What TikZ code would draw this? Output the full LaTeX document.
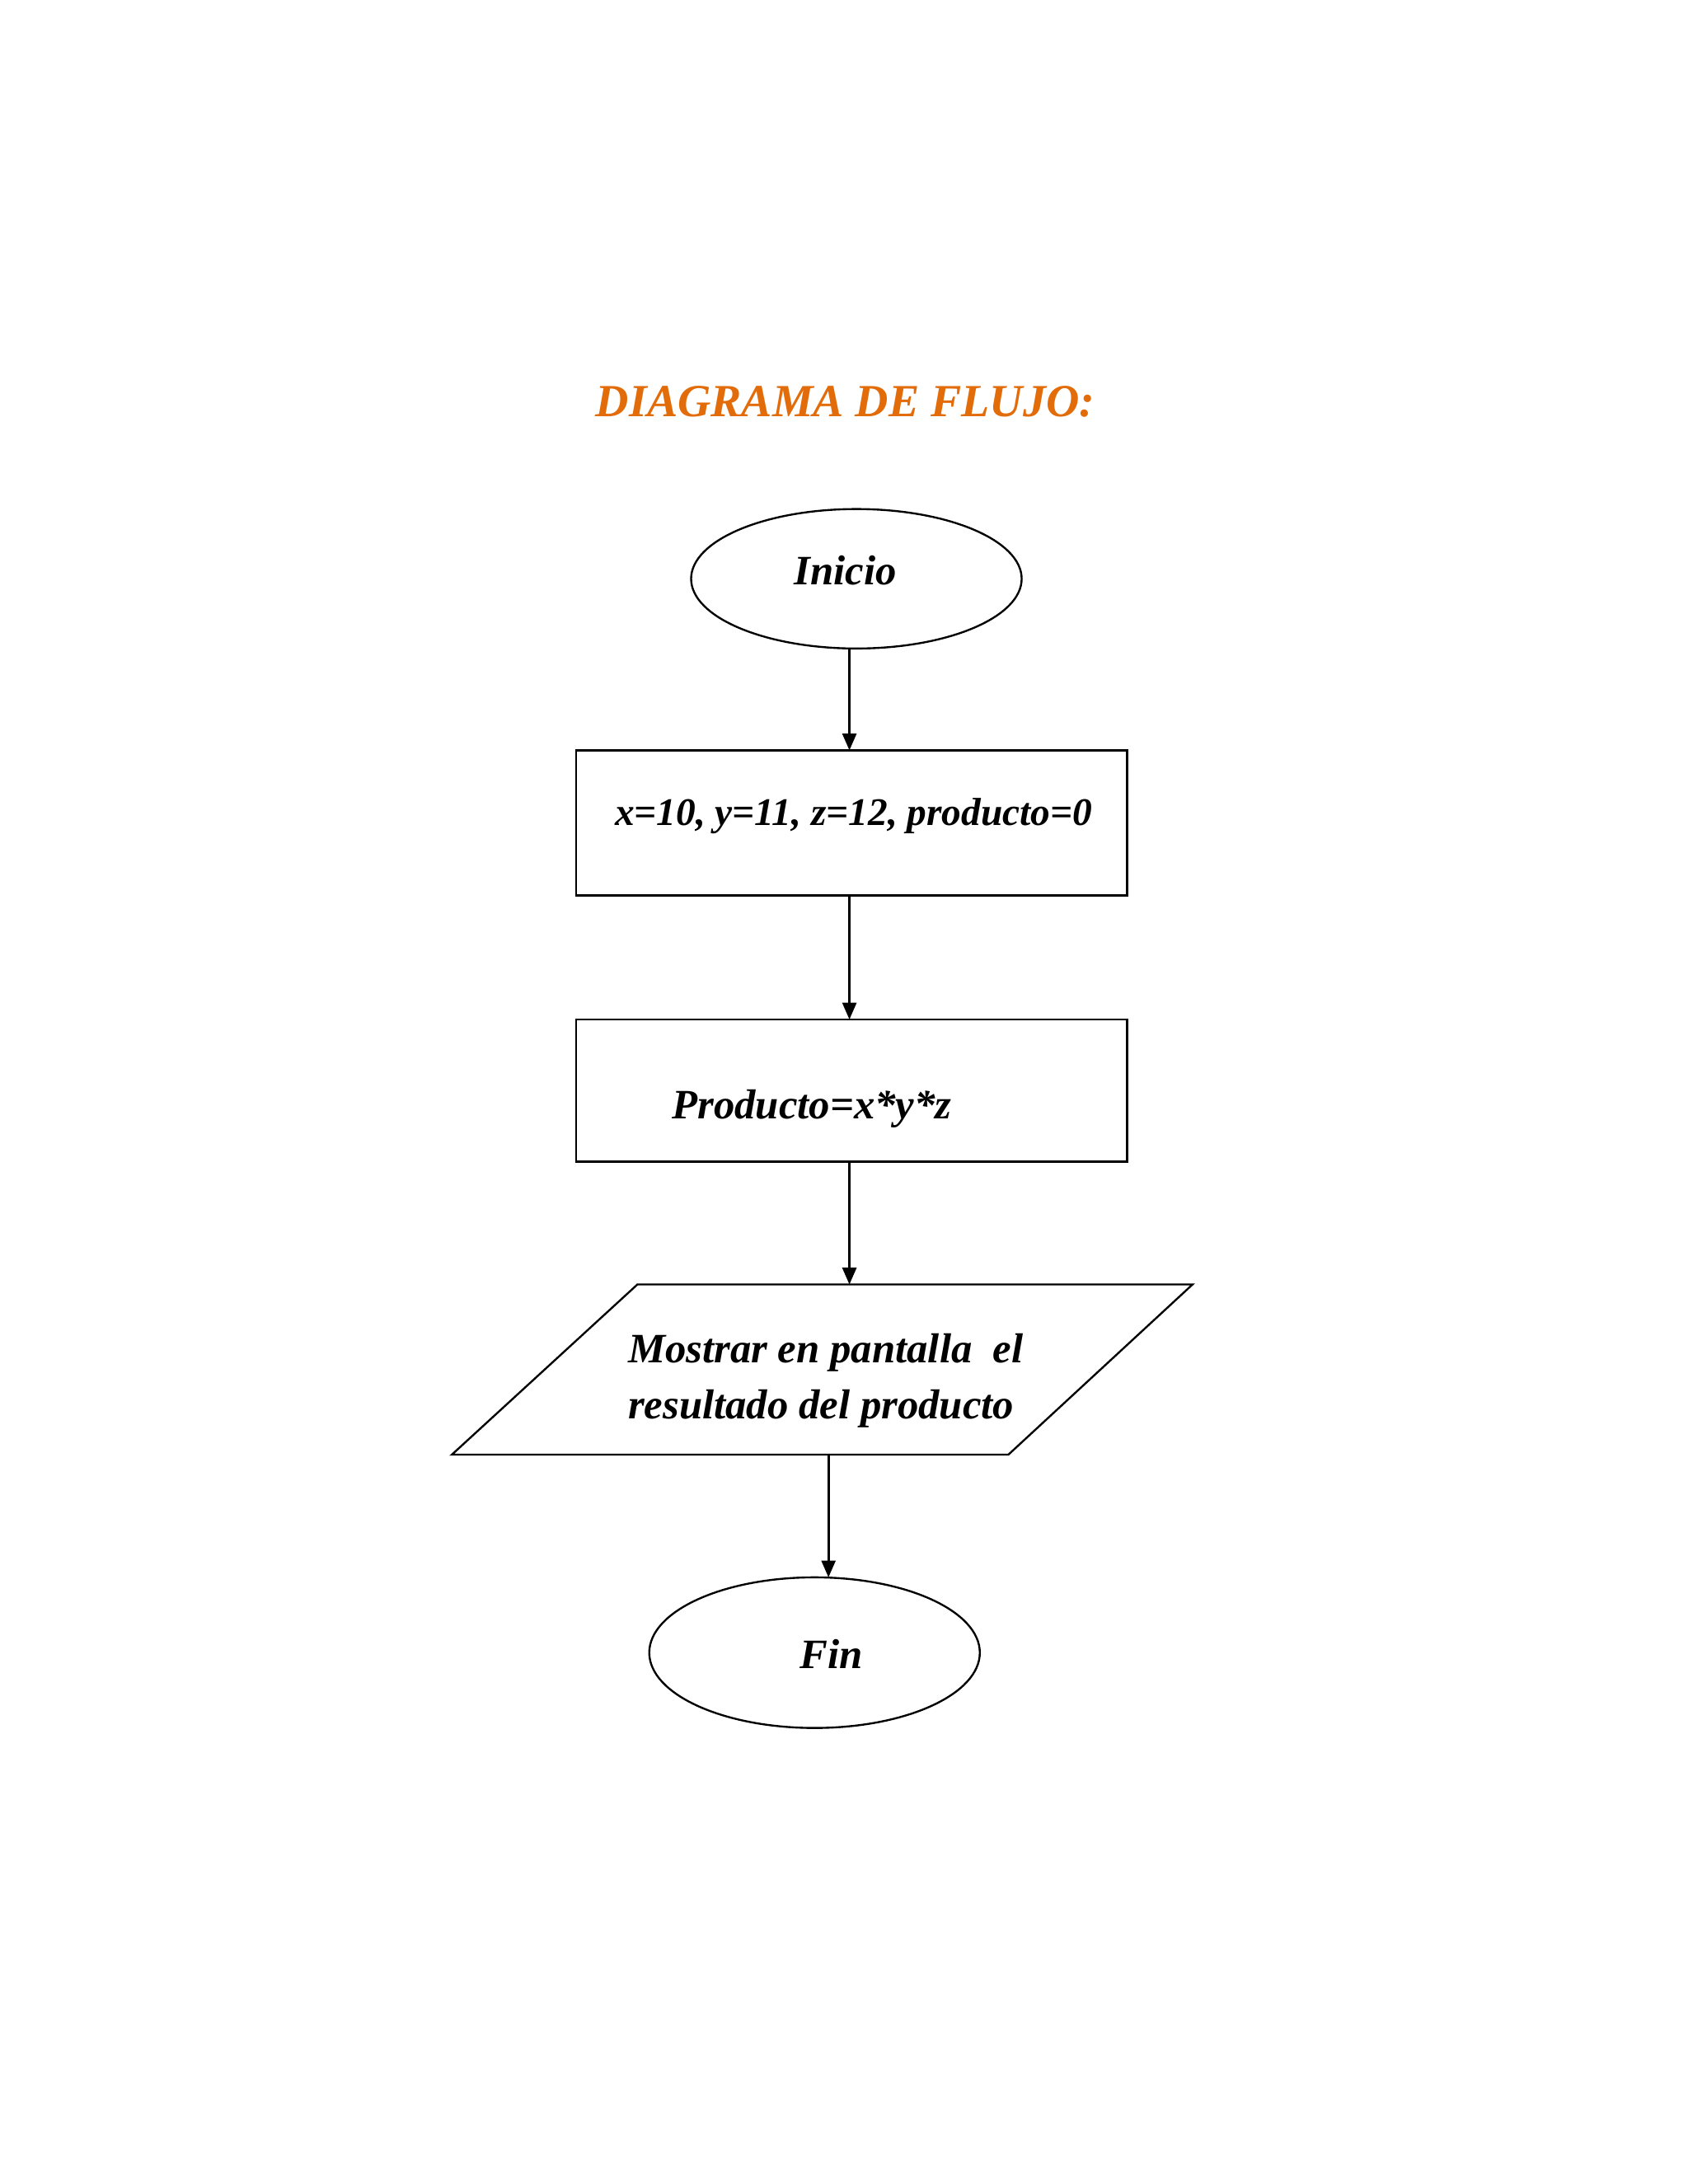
\documentclass[tikz,border=0pt]{standalone}
\usepackage{fontspec}
\setmainfont{Liberation Serif}
\usetikzlibrary{arrows.meta}
\begin{document}
\begin{tikzpicture}[x=0.5pt,y=-0.5pt,
  lbl/.style={font=\bfseries\itshape\fontsize{15}{19}\selectfont,align=center},
  shp/.style={draw,line width=0.7pt},
  arr/.style={-{Triangle[length=6pt,width=5pt]},line width=0.8pt}]
\useasboundingbox (0,0) rectangle (1210,1566);
\definecolor{orng}{HTML}{E36C0A}
\node[font=\bfseries\itshape\fontsize{16.5}{20}\selectfont,text=orng] (title) at (606,288) {DIAGRAMA DE FLUJO:};
\draw[shp] (614,415) ellipse [x radius=118.5, y radius=50];
\node[lbl] (tini) at (606,409) {Inicio};
\draw[shp] (413,538) rectangle (808,642);
\node[lbl,font=\bfseries\itshape\fontsize{14}{18}\selectfont] (t1) at (612,585) {x=10, y=11, z=12, producto=0};
\draw[shp] (413,731) rectangle (808,833);
\node[lbl] (t2) at (582,795) {Producto=x*y*z};
\draw[shp] (457,921) -- (855,921) -- (723,1043) -- (324,1043) -- cycle;
\node[lbl,align=left,font=\bfseries\itshape\fontsize{15}{20}\selectfont] (t3) at (592,990) {Mostrar en pantalla\ \ el\\resultado del producto};
\draw[shp] (584,1185) ellipse [x radius=118.5, y radius=54];
\node[lbl] (tfin) at (596,1186) {Fin};
\coordinate (a0) at (609,465); \coordinate (a1) at (609,538);
\coordinate (b0) at (609,642); \coordinate (b1) at (609,731);
\coordinate (c0) at (609,833); \coordinate (c1) at (609,921);
\coordinate (d0) at (594,1043); \coordinate (d1) at (594,1131);
\draw[arr] (a0) -- (a1);
\draw[arr] (b0) -- (b1);
\draw[arr] (c0) -- (c1);
\draw[arr] (d0) -- (d1);
\end{tikzpicture}
\end{document}
